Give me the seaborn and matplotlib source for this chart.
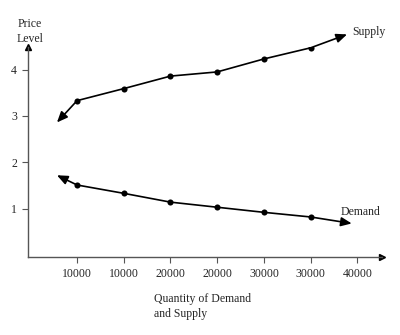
import matplotlib
matplotlib.use("Agg")
import matplotlib.pyplot as plt
import seaborn as sns
import pandas as pd

# Quantity tick labels along the horizontal axis (positions 1..7)
quantity_labels = ["10000", "10000", "20000", "20000", "30000", "30000", "40000"]
positions = [1, 2, 3, 4, 5, 6]
supply = [3.33, 3.59, 3.86, 3.95, 4.23, 4.47]
demand = [1.51, 1.33, 1.14, 1.03, 0.92, 0.82]
# where the curve extensions point beyond the plotted points (x, y)
supply_low_end = (0.57, 2.86)
supply_high_end = (6.78, 4.76)
demand_high_end = (0.57, 1.72)
demand_low_end = (6.88, 0.68)

sns.set_theme(style="white")
plt.rcParams["font.family"] = ["Liberation Serif", "DejaVu Serif"]
plt.rcParams["font.size"] = 8.5

df = pd.DataFrame({
    "q": positions * 2,
    "price": supply + demand,
    "curve": ["Supply"] * len(supply) + ["Demand"] * len(demand),
})

fig = plt.figure(figsize=(4.0, 3.35), dpi=100)
ax = fig.add_axes([0.07, 0.232, 0.884, 0.628])

sns.lineplot(data=df, x="q", y="price", units="curve", estimator=None,
             color="black", linewidth=1.2, marker="o", markersize=4.4,
             markeredgewidth=0, ax=ax, legend=False)

arrow = dict(arrowstyle="-|>,head_length=0.75,head_width=0.32", color="black",
             lw=1.2, shrinkA=0, shrinkB=0)
ax.annotate("", xy=supply_low_end, xytext=(positions[0], supply[0]),
            arrowprops=arrow, annotation_clip=False)
ax.annotate("", xy=supply_high_end, xytext=(positions[-1], supply[-1]),
            arrowprops=arrow, annotation_clip=False)
ax.annotate("", xy=demand_high_end, xytext=(positions[0], demand[0]),
            arrowprops=arrow, annotation_clip=False)
ax.annotate("", xy=demand_low_end, xytext=(positions[-1], demand[-1]),
            arrowprops=arrow, annotation_clip=False)

ax.text(6.9, 4.82, "Supply", ha="left", va="center", fontsize=8.5,
        clip_on=False)
ax.text(6.65, 0.92, "Demand", ha="left", va="center", fontsize=8.5)

ax.set_xlim(-0.05, 7.52)
ax.set_ylim(-0.05, 4.49)
ax.set_xticks(range(1, len(quantity_labels) + 1))
ax.set_xticklabels(quantity_labels)
ax.set_yticks([1, 2, 3, 4])
ax.set_yticklabels(["1", "2", "3", "4"])
ax.set_xlabel("")
ax.set_ylabel("")

for side in ["top", "right"]:
    ax.spines[side].set_visible(False)
for side in ["left", "bottom"]:
    ax.spines[side].set_color("#555555")
    ax.spines[side].set_linewidth(1.0)
ax.tick_params(axis="both", which="both", direction="out", length=4,
               width=0.8, color="#555555", labelsize=8.5, pad=4,
               bottom=True, left=True)

# axis arrowheads
ax.plot(1, 0, marker=">", color="black", markersize=4,
        transform=ax.transAxes, clip_on=False)
ax.plot(0, 1, marker="^", color="black", markersize=4,
        transform=ax.transAxes, clip_on=False)

fig.text(0.075, 0.905, "Price\nLevel", ha="center", va="center",
         fontsize=8.5, linespacing=1.3)
fig.text(0.385, 0.085, "Quantity of Demand\nand Supply", ha="left",
         va="center", fontsize=8.5, linespacing=1.35)

fig.savefig("out.png", dpi=100)
